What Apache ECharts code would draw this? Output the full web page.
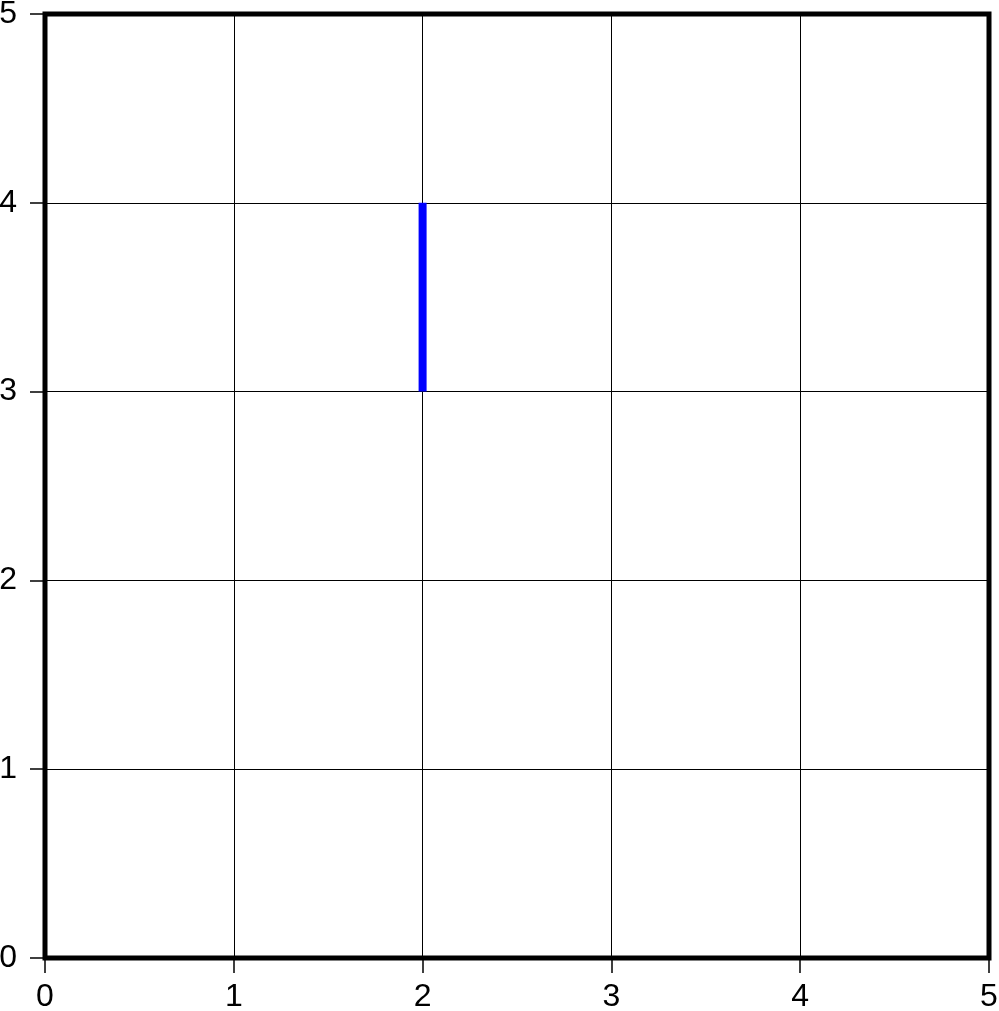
<!DOCTYPE html>
<html>
<head>
<meta charset="utf-8">
<script src="https://cdn.jsdelivr.net/npm/echarts@6/dist/echarts.min.js"></script>
<style>
html,body{margin:0;padding:0;background:#fff;}
#chart{width:999px;height:1011px;}
</style>
</head>
<body>
<div id="chart"></div>
<script>
const xTicks = [0, 1, 2, 3, 4, 5];
const yTicks = [0, 1, 2, 3, 4, 5];
const segmentX = [2, 2];
const segmentY = [3, 4];

const chart = echarts.init(document.getElementById('chart'));
const font = "'Liberation Sans', Arial, Helvetica, sans-serif";
chart.setOption({
  animation: false,
  backgroundColor: '#fff',
  grid: {
    left: 45, right: 10, top: 14, bottom: 53,
    containLabel: false, outerBoundsMode: 'none',
    show: true, borderColor: '#000', borderWidth: 5, backgroundColor: 'transparent'
  },
  xAxis: {
    type: 'value',
    min: xTicks[0], max: xTicks[xTicks.length - 1], interval: 1,
    axisLine: { show: false },
    axisTick: { show: true, inside: false, length: 15, lineStyle: { color: '#000', width: 1.5 } },
    splitLine: { show: true, lineStyle: { color: '#000', width: 1 } },
    axisLabel: { color: '#000', fontSize: 32, fontFamily: font, margin: 23, showMinLabel: true, showMaxLabel: true, hideOverlap: false }
  },
  yAxis: {
    type: 'value',
    min: yTicks[0], max: yTicks[yTicks.length - 1], interval: 1,
    axisLine: { show: false },
    axisTick: { show: true, inside: false, length: 15, lineStyle: { color: '#000', width: 1.5 } },
    splitLine: { show: true, lineStyle: { color: '#000', width: 1 } },
    axisLabel: { color: '#000', fontSize: 32, fontFamily: font, margin: 28, showMinLabel: true, showMaxLabel: true, hideOverlap: false }
  },
  series: [{
    type: 'line',
    data: segmentX.map((x, i) => [x, segmentY[i]]),
    showSymbol: false,
    symbol: 'none',
    lineStyle: { color: '#0000ff', width: 8, cap: 'butt' },
    z: 5
  }]
});
</script>
</body>
</html>
